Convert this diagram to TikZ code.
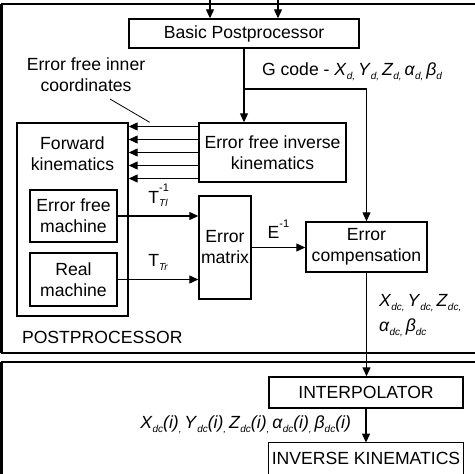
\documentclass[tikz,border=0pt]{standalone}
\usepackage{fontspec}
\setmainfont{Liberation Sans}
\usetikzlibrary{arrows.meta}
\newcommand{\lowi}[1]{\raisebox{-0.4ex}{\fontsize{5}{6}\selectfont\itshape #1}}
\newcommand{\highi}[1]{\raisebox{1.2ex}{\fontsize{5.5}{6}\selectfont #1}}

\begin{document}
\begin{tikzpicture}[
  x=0.5pt,y=-0.5pt,
  font=\fontsize{8.8}{10.5}\selectfont,
  block/.style={draw,line width=0.7pt,align=center,inner sep=0pt},
  flow/.style={-{Triangle[length=4.5pt,width=4pt]},line width=0.6pt},
  frame/.style={line width=0.9pt}
]
  \useasboundingbox (0,0) rectangle (474,474);

  % outer frames
  \draw[frame] (480,4) -- (2,4) -- (2,353) -- (480,353);
  \draw[frame] (480,362) -- (2,362) -- (2,480);
  \draw[line width=1.5pt] (1.5,4) -- (1.5,353) (1.5,362) -- (1.5,480);

  \node[block,minimum width=115pt,minimum height=14.5pt] (basic) at (244,33.5) {Basic Postprocessor};
  \node[block,minimum width=73.5pt,minimum height=29.5pt] (inv) at (272.5,152.5) {Error free inverse\\kinematics};
  \node[block,minimum width=55.5pt,minimum height=96.5pt] (fwd) at (72.5,219.5) {};
  \node[align=center] (fwdtxt) at (72.5,154) {Forward\\kinematics};
  \node[block,minimum width=43.5pt,minimum height=26pt] (efm) at (73.5,216) {Error free\\machine};
  \node[block,minimum width=43.5pt,minimum height=26.5pt] (real) at (73.5,279.5) {Real\\machine};
  \node[block,minimum width=26pt,minimum height=51.5pt] (emat) at (225,247.5) {Error\\matrix};
  \node[block,minimum width=60.5pt,minimum height=25pt] (ecomp) at (366.5,247) {Error\\compensation};
  \node[block,minimum width=97pt,minimum height=15.5pt] (interp) at (366,392.5) {INTERPOLATOR};
  \node[inner sep=0pt,minimum width=97pt,minimum height=15.5pt] (invk) at (366,458.5) {INVERSE KINEMATICS};
  \draw[line width=0.7pt] ([yshift=-20pt]invk.south west) |- (invk.north east) -- ([yshift=-20pt]invk.south east);

  \node[align=center] (eficoord) at (86,75) {Error free inner\\coordinates};
  \node[anchor=west] (gcode) at (255,72)
    {G code - \textit{X}\lowi{d,}\,\textit{Y}\lowi{d,}\,\textit{Z}\lowi{d,}\,\textit{α}\lowi{d,}\,\textit{β}\lowi{d}};
  \node[anchor=west] (ptitle) at (15,337) {POSTPROCESSOR};
  \node[anchor=west,align=left] (dcvals) at (372,315.5)
    {\textit{X}\lowi{dc,}\,\textit{Y}\lowi{dc,}\,\textit{Z}\lowi{dc,}\\[2pt]\textit{α}\lowi{dc,}\,\textit{β}\lowi{dc}};
  \node[anchor=east] (dci) at (358,425)
    {\textit{X}\lowi{dc}\textit{(i)}\lowi{,}\,\textit{Y}\lowi{dc}\textit{(i)}\lowi{,}\,\textit{Z}\lowi{dc}\textit{(i)}\lowi{,}\,\textit{α}\lowi{dc}\textit{(i)}\lowi{,}\,\textit{β}\lowi{dc}\textit{(i)}};

  % inputs from above
  \coordinate (cadin) at (210,-5);
  \coordinate (camin) at (278,-5);
  \draw[flow] (cadin) -- (cadin |- basic.north);
  \draw[flow] (camin) -- (camin |- basic.north);

  % g code
  \draw[flow] (basic.south) -- (basic.south |- inv.north);
  \coordinate (split) at (244,89);
  \draw[flow] (split) -| (ecomp.north);

  % inner coordinates
  \foreach \dy in {13,6.5,0,-6.5,-13}
    \draw[flow] ([yshift=\dy pt]inv.west) -- ([yshift=\dy pt]inv.west -| fwd.east);
  \draw[line width=0.4pt] ([xshift=12pt]eficoord.south) -- ([xshift=10.5pt]fwd.north east);

  \draw[flow] (efm.east) -- (efm.east -| emat.west)
    node[midway,above=1pt] {T\rlap{\highi{-1}}\lowi{Tl}};
  \draw[flow] (real.east) -- (real.east -| emat.west)
    node[midway,above=1pt] {T\lowi{Tr}};
  \draw[flow] (emat.east) -- (emat.east -| ecomp.west)
    node[midway,above=1pt] {E\highi{-1}};
  \draw[flow] (ecomp.south) -- (ecomp.south |- interp.north);
  \draw[flow] (interp.south) -- (invk.north);
\end{tikzpicture}
\end{document}
